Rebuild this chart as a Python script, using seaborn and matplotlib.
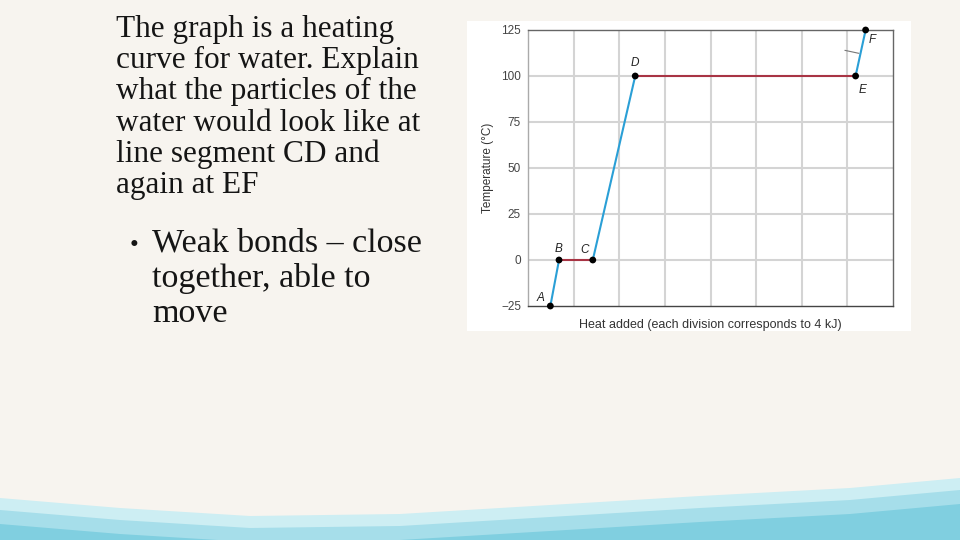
import numpy as np
import pandas as pd
import matplotlib.pyplot as plt
import seaborn as sns

# heating curve corner points (x in grid divisions, 1 division = 4 kJ)
point_names = ["A", "B", "C", "D", "E", "F"]
heat_div = [0.49, 0.68, 1.42, 2.35, 7.18, 7.40]
temp_c = [-25, 0, 0, 100, 100, 125]
segment_kind = ["heat", "phase", "heat", "phase", "heat"]  # AB, BC, CD, DE, EF

y_ticks = [-25, 0, 25, 50, 75, 100, 125]
x_ticks = [1.5, 2.5, 3.5, 4.5, 5.5, 6.5, 7.5]

question_lines = [
    "The graph is a heating",
    "curve for water. Explain",
    "what the particles of the",
    "water would look like at",
    "line segment CD and",
    "again at EF",
]
answer_lines = ["Weak bonds \u2013 close", "together, able to", "move"]

# build one row per segment end
rows = []
for i, kind in enumerate(segment_kind):
    for j in (i, i + 1):
        rows.append({"heat": heat_div[j], "temp": temp_c[j], "seg": i, "kind": kind})
segs = pd.DataFrame(rows)
pts = pd.DataFrame({"heat": heat_div, "temp": temp_c, "name": point_names})

sns.set_style("white")
fig = plt.figure(figsize=(9.6, 5.4), dpi=100)
fig.patch.set_facecolor("#f7f4ef")

# bottom watercolour strip
bg = fig.add_axes([0, 0, 1, 1], zorder=0)
bg.set_xlim(0, 960)
bg.set_ylim(540, 0)
bg.axis("off")
wx = np.array([0, 120, 250, 400, 550, 700, 850, 960])
wtop = np.array([498, 508, 516, 514, 505, 496, 488, 478])
bg.fill_between(wx, wtop, 540, color="#cdeef3", lw=0)
bg.fill_between(wx, wtop + 12, 540, color="#a6deea", lw=0)
bg.fill_between(wx, wtop + 26, 540, color="#80cfe0", lw=0)

# white panel behind the chart
panel = fig.add_axes([467 / 960, 1 - 331 / 540, 444 / 960, 310 / 540], zorder=1)
panel.set_facecolor("white")
panel.set_xticks([])
panel.set_yticks([])
for s in panel.spines.values():
    s.set_visible(False)

ax = fig.add_axes([528 / 960, 1 - 306 / 540, 365 / 960, 276 / 540], zorder=2)
ax.set_facecolor("white")

sns.lineplot(data=segs, x="heat", y="temp", units="seg", hue="kind",
             palette={"heat": "#2a9fd6", "phase": "#a83444"},
             estimator=None, sort=False, lw=1.5, legend=False, ax=ax)
sns.scatterplot(data=pts, x="heat", y="temp", color="black", s=24,
                edgecolor="none", zorder=5, clip_on=False, ax=ax)

# point letters
offsets = {"A": (-7, 6), "B": (0, 8), "C": (-6, 7), "D": (0, 9), "E": (5, -10), "F": (5, -7)}
for name, x, y in zip(point_names, heat_div, temp_c):
    ax.annotate(name, (x, y), xytext=offsets[name], textcoords="offset points",
                ha="center", va="center", fontsize=8.5, style="italic",
                color="#222222", family="Liberation Sans")

# small leader tick on EF
ax.annotate("", xy=(heat_div[4] + 0.6 * (heat_div[5] - heat_div[4]), 112),
            xytext=(-14, 3), textcoords="offset points",
            arrowprops=dict(arrowstyle="-", color="#777777", lw=0.8))

ax.set_xlim(0, 8)
ax.set_ylim(-25, 125)
ax.set_yticks(y_ticks)
ax.set_yticklabels([str(t).replace("-", "\u2212") for t in y_ticks],
                   fontsize=8.5, color="#444444", family="Liberation Sans")
ax.set_xticks(x_ticks)
ax.set_xticklabels([])
ax.tick_params(axis="x", direction="in", length=4, width=1.2, color="#333333")
ax.tick_params(axis="y", length=0, pad=5)
for g in range(1, 8):
    ax.axvline(g, color="#d4d4d4", lw=1.5, zorder=0)
for t in y_ticks[1:-1]:
    ax.axhline(t, color="#d4d4d4", lw=1.5, zorder=0)
ax.spines["bottom"].set_color("#444444")
ax.spines["top"].set_color("#666666")
ax.spines["right"].set_color("#666666")
ax.spines["left"].set_color("#aaaaaa")
for s in ax.spines.values():
    s.set_linewidth(1.0)

ax.set_xlabel("Heat added (each division corresponds to 4 kJ)", fontsize=9,
              color="#333333", family="Liberation Sans", labelpad=6)
ax.set_ylabel("Temperature (\u00b0C)", fontsize=8.5, color="#333333",
              family="Liberation Sans", labelpad=5)

# slide text
for k, line in enumerate(question_lines):
    fig.text(116 / 960, 1 - (37 + 31.2 * k) / 540, line, fontsize=22.5,
             family="Liberation Serif", color="#151515", va="baseline", ha="left")
fig.text(130 / 960, 1 - 251.5 / 540, "\u2022", fontsize=18,
         family="Liberation Serif", color="#151515", va="baseline", ha="left")
for k, line in enumerate(answer_lines):
    fig.text(152 / 960, 1 - (251.5 + 35 * k) / 540, line, fontsize=24.5,
             family="Liberation Serif", color="#151515", va="baseline", ha="left")

fig.savefig("out.png", dpi=100, facecolor=fig.get_facecolor())
